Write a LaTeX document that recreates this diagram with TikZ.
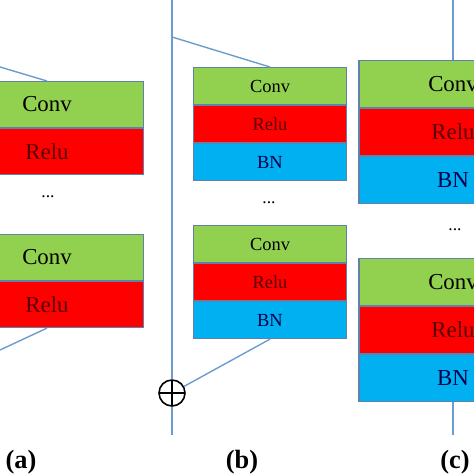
\documentclass[tikz,border=0pt]{standalone}
\usepackage{fontspec}
\setmainfont{Liberation Serif}
\usepackage{tikz}
\usetikzlibrary{positioning}

\definecolor{convgreen}{RGB}{146,208,80}
\definecolor{relured}{RGB}{255,0,0}
\definecolor{bnblue}{RGB}{0,176,240}
\definecolor{edgeblue}{RGB}{96,130,170}
\definecolor{wireblue}{RGB}{108,157,208}

\tikzset{
	layer/.style={draw=edgeblue, line width=0.6pt, inner sep=0pt, anchor=north},
	conv/.style={layer, fill=convgreen, text=black},
	relu/.style={layer, fill=relured, text=red!35!black},
	bn/.style={layer, fill=bnblue, text=blue!30!black},
	size a/.style={minimum width=3.86cm, minimum height=0.92cm, font=\fontsize{13}{15}\selectfont},
	size b/.style={minimum width=3.06cm, minimum height=0.74cm, font=\fontsize{10.5}{12}\selectfont},
	size c/.style={minimum width=3.76cm, minimum height=0.94cm, font=\fontsize{13}{15}\selectfont},
	wire/.style={draw=wireblue, line width=0.8pt},
	tag/.style={font=\fontsize{15}{18}\selectfont\bfseries}
}

\begin{document}
\begin{tikzpicture}[x=0.02cm, y=-0.02cm]
	\useasboundingbox (0,0) rectangle (474,474);
	\clip (0,0) rectangle (474,474);
	% (a) plain stack
	\foreach \i/\y in {1/81,2/234} {
		\node[conv, size a] (a\i-c) at (47,\y) {Conv};
		\node[relu, size a, below=0pt of a\i-c] (a\i-r) {Relu};
	}
	\node (a-dots) at (48,197) {...};
	\coordinate (a-in) at (0,67);
	\coordinate (a-out) at (0,350);
	\draw[wire] (a-in) -- (a1-c.north);
	\draw[wire] (a2-r.south) -- (a-out);
	\node[tag] (a-lab) at (21,462) {(a)};
	% (b) stack with skip connection
	\foreach \i/\y in {1/67,2/225} {
		\node[conv, size b] (b\i-c) at (270,\y) {Conv};
		\node[relu, size b, below=0pt of b\i-c] (b\i-r) {Relu};
		\node[bn, size b, below=0pt of b\i-r] (b\i-n) {BN};
	}
	\node (b-dots) at (269,203) {...};
	\coordinate (b-top) at (172,0);
	\coordinate (b-split) at (172,37);
	\coordinate (b-bot) at (172,435);
	\node[draw, circle, line width=0.9pt, minimum size=0.52cm, inner sep=0pt,
		path picture={\draw[line width=0.9pt] (path picture bounding box.north) -- (path picture bounding box.south)
			(path picture bounding box.west) -- (path picture bounding box.east);}] (sum) at (172,393) {};
	\draw[wire] (b-top) -- (sum);
	\draw[wire] (sum) -- (b-bot);
	\draw[wire] (b-split) -- (b1-c.north);
	\draw[wire] (b2-n.south) -- (sum);
	\node[tag] (b-lab) at (242,462) {(b)};
	% (c) wide stack
	\foreach \i/\y in {1/60,2/258} {
		\node[conv, size c] (c\i-c) at (453,\y) {Conv};
		\node[relu, size c, below=0pt of c\i-c] (c\i-r) {Relu};
		\node[bn, size c, below=0pt of c\i-r] (c\i-n) {BN};
	}
	\node (c-dots) at (455,230) {...};
	\coordinate (c-top) at (453,0);
	\coordinate (c-bot) at (453,435);
	\draw[wire] (c-top) -- (c1-c.north);
	\draw[wire] (c2-n.south) -- (c-bot);
	\node[tag] (c-lab) at (455,462) {(c)};
\end{tikzpicture}
\end{document}
